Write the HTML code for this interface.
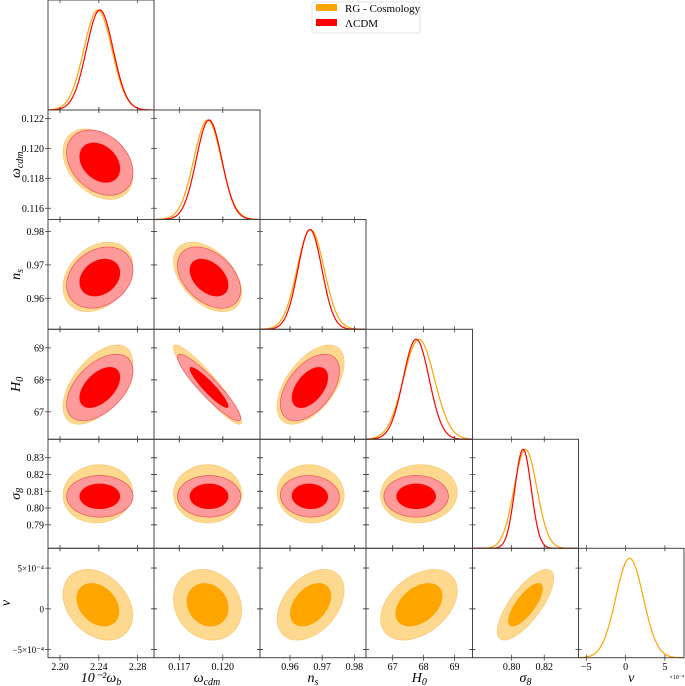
<!DOCTYPE html>
<html><head><meta charset="utf-8"><style>
html,body{margin:0;padding:0;background:#fff;}
svg{display:block;font-family:"Liberation Serif",serif;}
</style></head><body>
<svg id="chart" width="685" height="686" viewBox="0 0 685 686" xmlns="http://www.w3.org/2000/svg">
<g id="panels"></g>
<g>
<rect x="312" y="2" width="108" height="31" rx="2" fill="#fff" stroke="#ddd" stroke-width="0.8"/>
<rect x="316" y="4" width="21" height="7" fill="#ffa500"/>
<text x="345" y="12" font-size="11">RG - Cosmology</text>
<rect x="316" y="19" width="21" height="7" fill="#ff0000"/>
<text x="345" y="27" font-size="11">ΛCDM</text>
</g>
</svg>
<script>
// parameter order: omega_b(x100), omega_cdm, n_s, H0, sigma8, nu (x1e-4)
const paramNames = ["wb","wcdm","ns","H0","s8","nu"];
const rgMean  = [2.239, 0.11895, 0.9664, 67.85, 0.8085, 0.5];
const rgSigma = [0.0145, 0.00095, 0.0042, 0.50, 0.0070, 1.75];
const lcdmMean  = [2.241, 0.11905, 0.9662, 67.76, 0.8070];
const lcdmSigma = [0.0138, 0.00088, 0.0037, 0.42, 0.0050];
const corrRG = [
 [1,-0.35,0.30,0.55,0.05,-0.30],
 [-0.35,1,-0.45,-0.93,0.0,-0.15],
 [0.30,-0.45,1,0.55,-0.05,0.40],
 [0.55,-0.93,0.55,1,0.05,0.40],
 [0.05,0.0,-0.05,0.05,1,0.75],
 [-0.30,-0.15,0.40,0.40,0.75,1]];
const corrLCDM = [
 [1,-0.30,0.25,0.50,0.0],
 [-0.30,1,-0.40,-0.92,0.0],
 [0.25,-0.40,1,0.50,-0.05],
 [0.50,-0.92,0.50,1,0.0],
 [0.0,0.0,-0.05,0.0,1]];
const rangeLo = [2.1876, 0.11525, 0.9507, 66.14, 0.776, -6.0];
const rangeHi = [2.2969, 0.12257, 0.9836, 69.58, 0.841, 7.43];
const xTicks = [[2.20,2.24,2.28],[0.117,0.120],[0.96,0.97,0.98],[67,68,69],[0.80,0.82],[-5,0,5]];
const xTickLabels = [["2.20","2.24","2.28"],["0.117","0.120"],["0.96","0.97","0.98"],["67","68","69"],["0.80","0.82"],["−5","0","5"]];
const yTicks = [[],[0.116,0.118,0.120,0.122],[0.96,0.97,0.98],[67,68,69],[0.79,0.80,0.81,0.82,0.83],[-5,0,5]];
const yTickLabels = [[],["0.116","0.118","0.120","0.122"],["0.96","0.97","0.98"],["67","68","69"],["0.79","0.80","0.81","0.82","0.83"],["−5×10⁻⁴","0","5×10⁻⁴"]];
const xAxisTitles = ["10⁻²ω","ω","n","H","σ","ν"];
const xAxisSubs = ["b","cdm","s","0","8",""];

const colE = [48,154,260,366,472.5,578.5,684];
const rowE = [0,110,219.5,329.3,439.3,548.3,657.7];
const NS = "http://www.w3.org/2000/svg";
const root = document.getElementById('panels');
function mk(tag, attrs, parent){const e=document.createElementNS(NS,tag);for(const k in attrs)e.setAttribute(k,attrs[k]);(parent||root).appendChild(e);return e;}
function xs(p,col){return v=>colE[col]+(v-rangeLo[p])/(rangeHi[p]-rangeLo[p])*(colE[col+1]-colE[col]);}
function ys(p,row){return v=>rowE[row+1]-(v-rangeLo[p])/(rangeHi[p]-rangeLo[p])*(rowE[row+1]-rowE[row]);}

function ellipse(mean,sig,corr,i,j,k,fx,fy){
  const r=corr[i][j];let d="";
  for(let n=0;n<=72;n++){const t=n/72*2*Math.PI;
    const x=mean[j]+k*sig[j]*Math.cos(t);
    const y=mean[i]+k*sig[i]*(r*Math.cos(t)+Math.sqrt(1-r*r)*Math.sin(t));
    d+=(n?"L":"M")+fx(x).toFixed(2)+","+fy(y).toFixed(2);}
  return d+"Z";
}
function gauss(mean,sig,p,col,row){
  const fx=xs(p,col);const top=rowE[row]+10,bot=rowE[row+1];let d="";
  for(let n=0;n<=120;n++){const v=rangeLo[p]+(rangeHi[p]-rangeLo[p])*n/120;
    const g=Math.exp(-0.5*Math.pow((v-mean[p])/sig[p],2));
    d+=(n?"L":"M")+fx(v).toFixed(2)+","+(bot-g*(bot-top)).toFixed(2);}
  return d;
}
const K1=1.52,K2=2.48;
for(let i=0;i<6;i++){for(let j=0;j<=i;j++){
  const g=mk('g',{});
  
  
  const x0=colE[j],x1=colE[j+1],y0=rowE[i],y1=rowE[i+1];
  const fx=xs(j,j),fy=ys(i,i);
  if(i===j){
    const pr=mk('path',{d:gauss(rgMean,rgSigma,i,j,i),fill:'none',stroke:'#ffa500','stroke-width':1.2},g);
    
    
    if(i<5){const pl=mk('path',{d:gauss(lcdmMean,lcdmSigma,i,j,i),fill:'none',stroke:'#ff0000','stroke-width':1.2},g);
      
      }
  } else {
    const a=mk('path',{d:ellipse(rgMean,rgSigma,corrRG,i,j,K2,fx,fy),fill:'#fdd88f',stroke:'#fcc36a','stroke-width':0.6},g);
    
    if(i<5){
      const c=mk('path',{d:ellipse(lcdmMean,lcdmSigma,corrLCDM,i,j,K2,fx,fy),fill:'#ff9a9a',stroke:'#f05050','stroke-width':0.7},g);
      
      const d=mk('path',{d:ellipse(lcdmMean,lcdmSigma,corrLCDM,i,j,K1,fx,fy),fill:'#ff0000'},g);
      
    } else {
      const b=mk('path',{d:ellipse(rgMean,rgSigma,corrRG,i,j,K1,fx,fy),fill:'#ffa500'},g);
      
    }
  }
  const fr=mk('rect',{x:x0,y:y0,width:x1-x0,height:y1-y0,fill:'none',stroke:'#444','stroke-width':1},g);
  
  xTicks[j].forEach(v=>{const X=fx(v);
    mk('line',{x1:X,x2:X,y1:y1-3,y2:y1+3,stroke:'#444','stroke-width':0.8},g);
    mk('line',{x1:X,x2:X,y1:y0-3,y2:y0+3,stroke:'#444','stroke-width':0.8},g);});
  if(i!==j){yTicks[i].forEach(v=>{const Y=fy(v);
    mk('line',{x1:x0-3,x2:x0+3,y1:Y,y2:Y,stroke:'#444','stroke-width':0.8},g);
    mk('line',{x1:x1-3,x2:x1+3,y1:Y,y2:Y,stroke:'#444','stroke-width':0.8},g);});}
}}
for(let j=0;j<6;j++){const fx=xs(j,j);
  xTicks[j].forEach((v,k)=>{const t=mk('text',{x:fx(v),y:670,'font-size':10,'text-anchor':'middle'});
    
    t.textContent=xTickLabels[j][k];});
  const cx=(colE[j]+colE[j+1])/2;
  const t=mk('text',{x:cx,y:686-4,'font-size':14,'text-anchor':'middle','font-style':'italic'});
  
  const m=mk('tspan',{},t);m.textContent=xAxisTitles[j];
  if(xAxisSubs[j]){const s=mk('tspan',{'font-size':10,dy:3},t);s.textContent=xAxisSubs[j];}
}
const ex=mk('text',{x:684,y:679,'font-size':6,'text-anchor':'end'});
ex.textContent='×10⁻⁴';
const yTitles=["","ω","n","H","σ","ν"],ySubs=["","cdm","s","0","8",""];
for(let i=1;i<6;i++){const fy=ys(i,i);
  yTicks[i].forEach((v,k)=>{const t=mk('text',{x:44,y:fy(v)+3.5,'font-size':i===5?9:10,'text-anchor':'end'});
    
    t.textContent=yTickLabels[i][k];});
  const cy=(rowE[i]+rowE[i+1])/2;
  const t=mk('text',{x:0,y:0,'font-size':14,'text-anchor':'middle','font-style':'italic',transform:`translate(${i===5?10:20},${cy}) rotate(-90)`});
  
  const m=mk('tspan',{},t);m.textContent=yTitles[i];
  if(ySubs[i]){const s=mk('tspan',{'font-size':10,dy:3},t);s.textContent=ySubs[i];}
}
</script>
</body></html>
